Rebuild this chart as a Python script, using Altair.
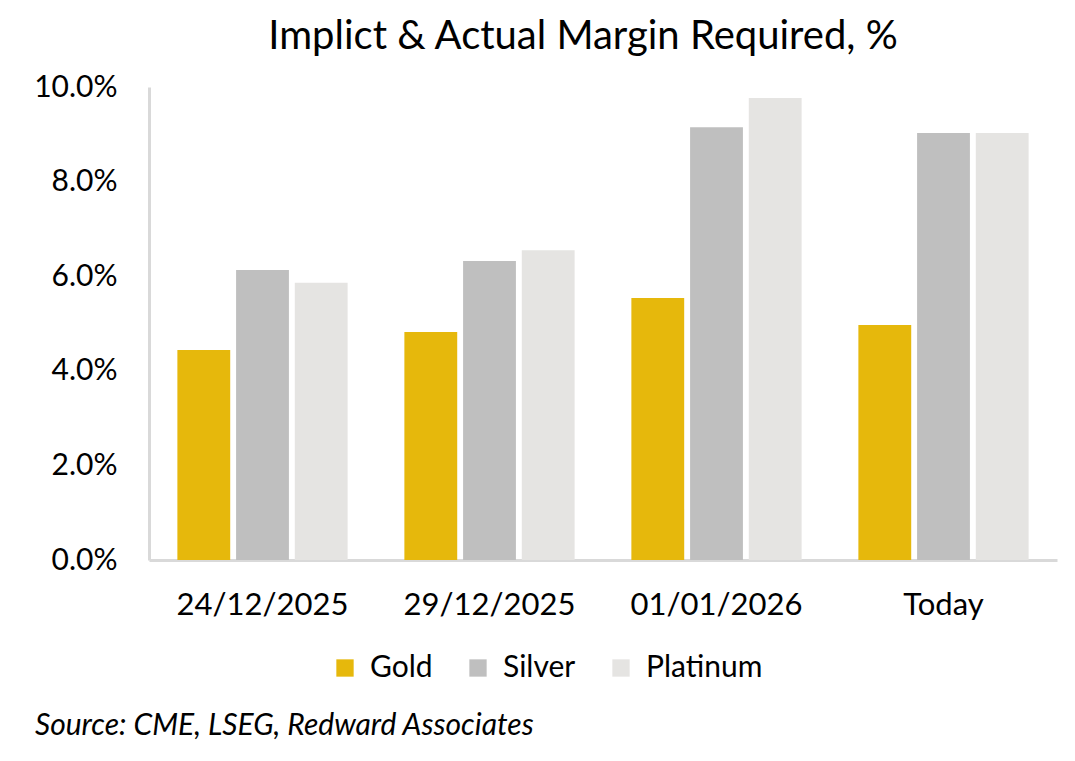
import altair as alt
import pandas as pd

dates = ["24/12/2025", "29/12/2025", "01/01/2026", "Today"]
metals = ["Gold", "Silver", "Platinum"]
gold = [0.0444, 0.0482, 0.0554, 0.0497]
silver = [0.0613, 0.0632, 0.0915, 0.0903]
platinum = [0.0586, 0.0655, 0.0977, 0.0903]
colors = ["#E6B80C", "#BFBFBF", "#E5E4E2"]

rows = []
for i, d in enumerate(dates):
    for m, vals in zip(metals, [gold, silver, platinum]):
        rows.append({"Date": d, "Metal": m, "Value": vals[i]})
df = pd.DataFrame(rows)

FONT = "Lato"

bars = alt.Chart(df).mark_bar().encode(
    x=alt.X("Date:N", sort=dates, title=None,
            scale=alt.Scale(paddingInner=0.25, paddingOuter=0.125),
            axis=alt.Axis(labelAngle=0, labelFontSize=31, labelPadding=30, ticks=False,
                          domainColor="#D9D9D9", domainWidth=3, labelColor="#000000",
                          labelFont=FONT)),
    xOffset=alt.XOffset("Metal:N", sort=metals, scale=alt.Scale(paddingInner=0.1)),
    y=alt.Y("Value:Q", title=None,
            scale=alt.Scale(domain=[0, 0.10], nice=False),
            axis=alt.Axis(format=".1%", values=[0, 0.02, 0.04, 0.06, 0.08, 0.10],
                          labelFontSize=30, labelPadding=32, ticks=False, grid=False,
                          domainColor="#D9D9D9", domainWidth=3, labelColor="#000000",
                          labelFont=FONT)),
    color=alt.Color("Metal:N", sort=metals,
                    scale=alt.Scale(domain=metals, range=colors),
                    legend=alt.Legend(orient="none", legendX=181, legendY=566, direction="horizontal",
                                      title=None, symbolType="square", symbolSize=300,
                                      labelFontSize=30, labelFont=FONT, labelColor="#000000",
                                      columnPadding=30, symbolStrokeWidth=0, labelOffset=10)),
)

source = alt.Chart(pd.DataFrame({"t": ["Source: CME, LSEG, Redward Associates"]})).mark_text(
    align="left", baseline="middle", fontSize=30, fontStyle="italic", font=FONT, color="#000000"
).encode(x=alt.value(-114), y=alt.value(639), text="t:N")

chart = alt.layer(bars, source).properties(
    width=908, height=473,
    title=alt.TitleParams("Implict & Actual Margin Required, %", fontSize=40, font=FONT,
                          fontWeight="normal", color="#000000", anchor="middle", dx=-20, offset=15),
    autosize=alt.AutoSizeParams(type="none"),
    padding={"left": 141, "top": 79, "right": 10, "bottom": 190},
).configure_view(stroke=None)

chart.save("out.html", embed_options={"renderer": "svg", "actions": False})
